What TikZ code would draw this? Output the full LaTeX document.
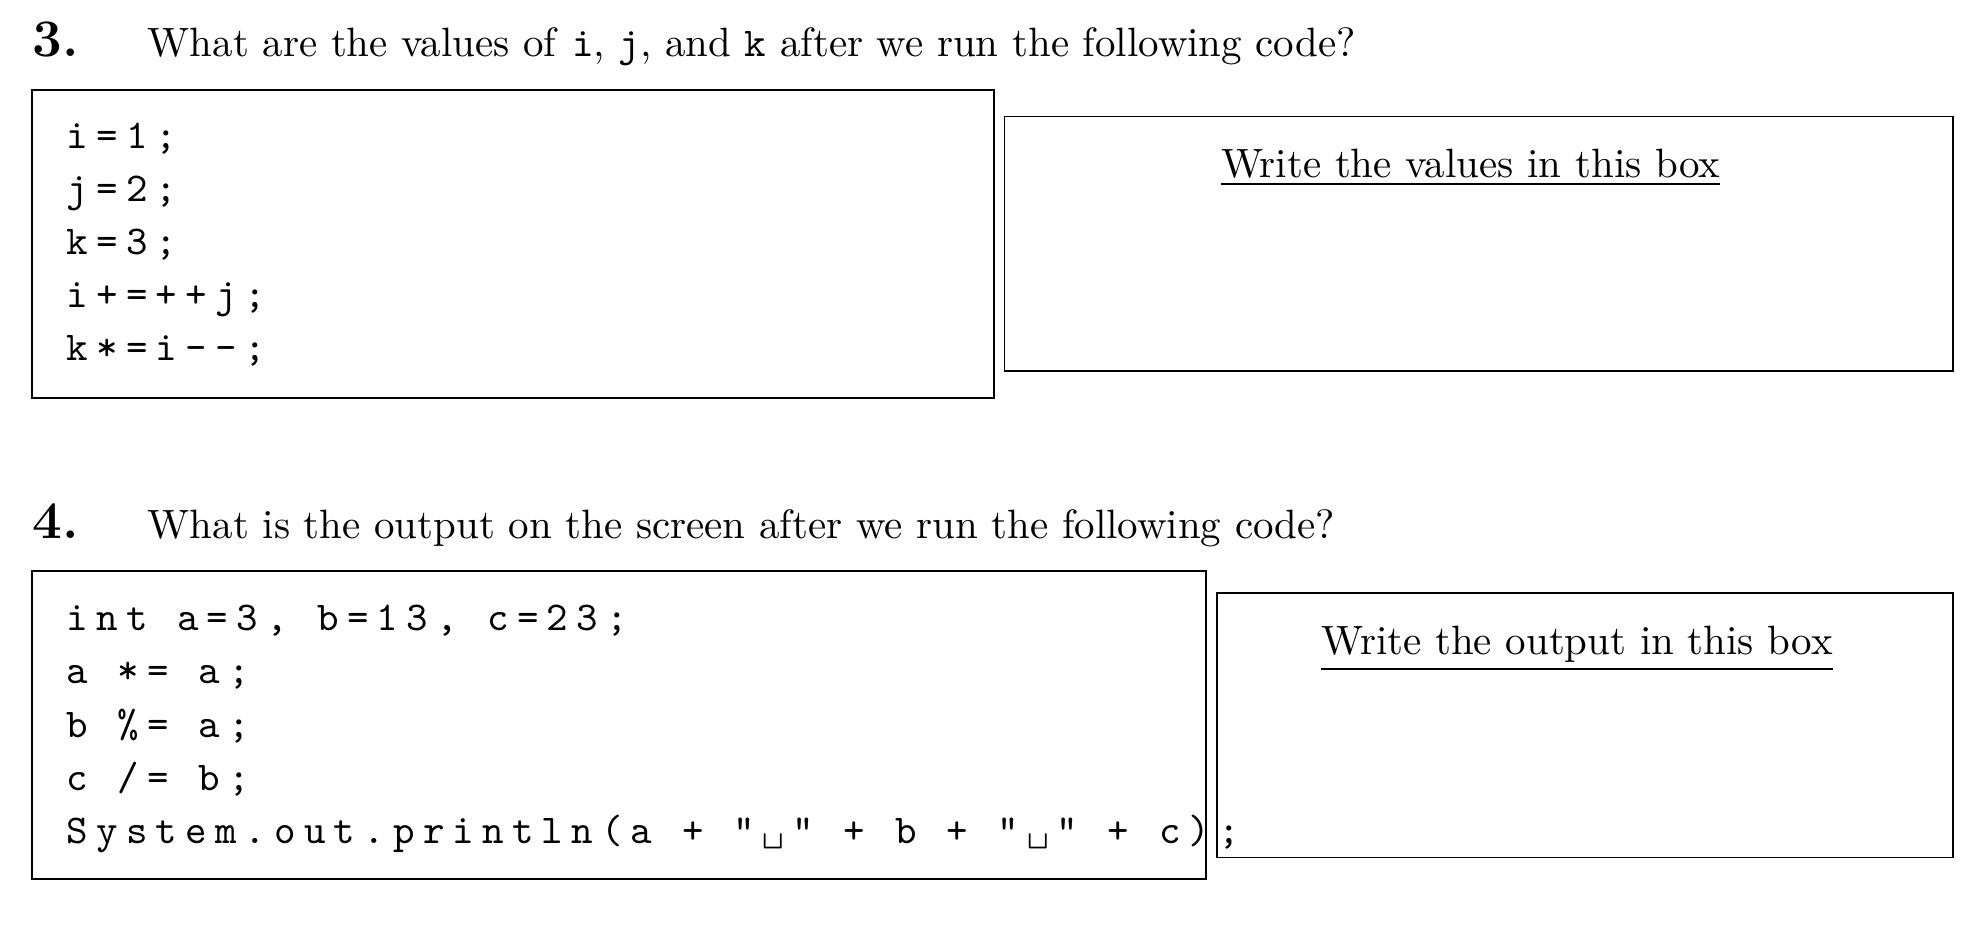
\documentclass[tikz,border=0pt]{standalone}
\usepackage{fontspec}
\newfontfamily\codefont{Latin Modern Mono}[LetterSpace=20]
\begin{document}
\begin{tikzpicture}[x=0.3pt,y=-0.3pt,
  box/.style={draw,line width=0.4pt},
  txt/.style={anchor=base west,inner sep=0,font=\fontsize{9.7}{11}\selectfont},
  num/.style={anchor=base west,inner sep=0,font=\fontsize{12.5}{14}\selectfont\bfseries},
  code/.style={anchor=base west,inner sep=0,font=\fontsize{9.7}{11}\selectfont\codefont},
  hint/.style={anchor=base,inner sep=0,font=\fontsize{9.7}{11}\selectfont}]
\useasboundingbox (0,0) rectangle (1560,732);
\node[num] (n3) at (25,45) {3.};
\node[txt] (q3) at (116,45) {What are the values of \texttt{i}, \texttt{j}, and \texttt{k} after we run the following code?};
\draw[box] (25,71) rectangle (785,314);
\draw[box] (793,92) rectangle (1542,293);
\node[hint] (h3) at (1161,140) {\underline{Write the values in this box}};
\node[code] (c1) at (52,117) {i=1;};
\node[code] (c2) at (52,159) {j=2;};
\node[code] (c3) at (52,201) {k=3;};
\node[code] (c4) at (52,243) {i+=++j;};
\node[code] (c5) at (52,285) {k*=i--;};
\node[num] (n4) at (25,425) {4.};
\node[txt] (q4) at (116,425) {What is the output on the screen after we run the following code?};
\draw[box] (25,451) rectangle (952,694);
\draw[box] (961,468) rectangle (1542,677);
\node[hint] (h4) at (1245,517) {\underline{Write the output in this box}};
\node[code] (d1) at (52,498) {int a=3, b=13, c=23;};
\node[code] (d2) at (52,540) {a *= a;};
\node[code] (d3) at (52,582) {b \%= a;};
\node[code] (d4) at (52,624) {c /= b;};
\node[code] (d5) at (52,666) {System.out.println(a + "␣" + b + "␣" + c);};
\end{tikzpicture}
\end{document}
